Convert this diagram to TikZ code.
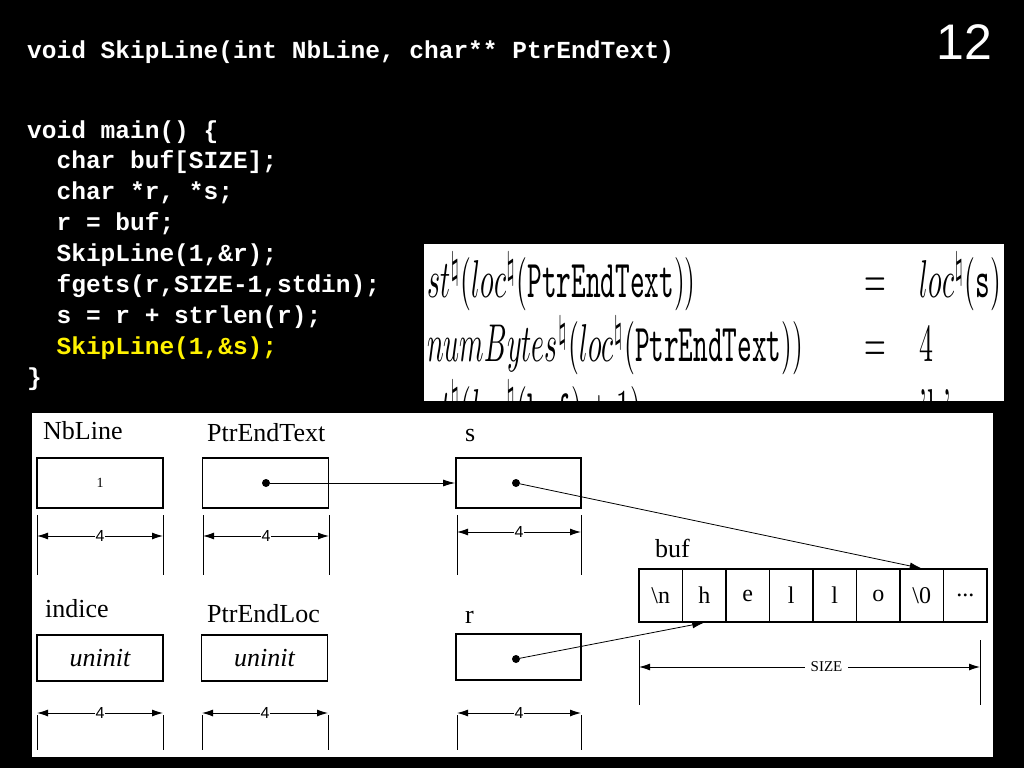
\documentclass[tikz,border=0pt]{standalone}
\usepackage{fontspec}
\newfontfamily\codef{Liberation Mono}
\newfontfamily\serf{Liberation Serif}
\newfontfamily\sanf{Liberation Sans}
\usetikzlibrary{arrows.meta,calc}
\begin{document}
\begin{tikzpicture}[x=1pt,y=-1pt,
  code/.style={anchor=west,inner sep=0,font=\codef\bfseries\fontsize{24.5}{24.5}\selectfont,text=white},
  cell/.style={draw,line width=1.8pt,minimum width=126pt,minimum height=50pt,inner sep=0},
  lbl/.style={anchor=west,inner sep=0,font=\serf\fontsize{26}{26}\selectfont},
  dimtxt/.style={fill=white,inner sep=1pt,font=\sanf\fontsize{16}{16}\selectfont},
  dim/.style={{Latex[length=11pt,width=7pt]}-{Latex[length=11pt,width=7pt]},line width=0.9pt},
  ptr/.style={-{Latex[length=12pt,width=7pt]},line width=0.8pt},
  acell/.style={draw,line width=1.2pt,minimum width=43.5pt,minimum height=53pt,inner sep=0,font=\serf\fontsize{24}{24}\selectfont},
  dotc/.style={circle,fill,inner sep=0,minimum size=8pt}]
\fill[black] (0,0) rectangle (1024,768);
\useasboundingbox (0,0) rectangle (1024,768);
\node[anchor=east,text=white,font=\sanf\fontsize{50}{50}\selectfont,inner sep=0] (num) at (992,42) {12};
\node[code] (c0) at (27,52) {void SkipLine(int NbLine, char** PtrEndText)};
\node[code] (c1) at (27,132) {void main() \{};
\node[code] (c2) at (27,162) {\ \ char buf[SIZE];};
\node[code] (c3) at (27,193) {\ \ char *r, *s;};
\node[code] (c4) at (27,224) {\ \ r = buf;};
\node[code] (c5) at (27,255) {\ \ SkipLine(1,\&r);};
\node[code] (c6) at (27,286) {\ \ fgets(r,SIZE-1,stdin);};
\node[code] (c7) at (27,317) {\ \ s = r + strlen(r);};
\node[code,text=yellow] (c8) at (27,348) {\ \ SkipLine(1,\&s);};
\node[code] (c9) at (27,379) {\}};
% formula box
\fill[white] (424,244) rectangle (1004,401);
\node[anchor=north west,inner sep=0] (form) at (427,252)
{\resizebox{574pt}{142pt}{$\begin{array}{@{}l@{\hspace{22pt}}c@{\hspace{12pt}}l@{}}
st^\natural(loc^\natural(\mathtt{PtrEndText})) & = & loc^\natural(\mathtt{s})\\
numBytes^\natural(loc^\natural(\mathtt{PtrEndText})) & = & 4\\
st^\natural(loc^\natural(\mathtt{buf})+1) & = & \textrm{'h'}\\
numBytes^\natural(loc^\natural(\mathtt{buf})+1) & = & 1
\end{array}$}};
% panel
\fill[white] (32,413) rectangle (993,757);
\node[lbl] (lNb) at (43,431) {NbLine};
\node[lbl] (lPE) at (207,433) {PtrEndText};
\node[lbl] (ls) at (465,435) {s};
\node[lbl] (lin) at (45,609) {indice};
\node[lbl] (lPL) at (207,614) {PtrEndLoc};
\node[lbl] (lr) at (465,617) {r};
\node[lbl] (lbuf) at (655,548) {buf};
\node[cell] (bNb) at (100,483) {\serf\fontsize{14}{14}\selectfont 1};
\node[cell] (bPE) at (265.5,483) {};
\node[cell,minimum width=125pt] (bs) at (518.5,483) {};
\node[cell,minimum height=46pt] (bin) at (100,658) {\serf\itshape\fontsize{26}{26}\selectfont uninit};
\node[cell,minimum height=46pt] (bPL) at (264.5,658) {\serf\itshape\fontsize{26}{26}\selectfont uninit};
\node[cell,minimum width=125pt,minimum height=46pt] (br) at (518.5,657) {};
\node[dotc] (dPE) at (266,483) {};
\node[dotc] (ds) at (516,483) {};
\node[dotc] (dr) at (516,659) {};
% buf array
\node[acell] (a0) at (660.75,595.5) {\textbackslash n};
\node[acell] (a1) at (704.25,595.5) {h};
\node[acell] (a2) at (747.75,595.5) {e};
\node[acell] (a3) at (791.25,595.5) {l};
\node[acell] (a4) at (834.75,595.5) {l};
\node[acell] (a5) at (878.25,595.5) {o};
\node[acell] (a6) at (921.75,595.5) {\textbackslash 0};
\node[acell] (a7) at (965.25,595.5) {...};
\draw[ptr] (dPE) -- (bs.west);
\draw[ptr] (ds) -- (a6.north);
\draw[ptr] (dr) -- (a1.south);
% dimensions
\foreach \xa/\xb/\ya/\yb/\yc [count=\k] in {37/163/515/575/536, 203/329/515/575/536, 457/581/515/575/532, 37/163/715/750/713, 202/328/715/750/713, 457/581/715/750/713, 639/980/640/705/667}{
  \coordinate (p\k) at (\xa,\yc); \coordinate (q\k) at (\xb,\yc);
  \draw[line width=0.8pt] (\xa,\ya) -- (\xa,\yb) (\xb,\ya) -- (\xb,\yb);
  \draw[dim] (p\k) -- (q\k);
}
\foreach \k in {1,...,6} \node[dimtxt] (t\k) at ($(p\k)!0.5!(q\k)$) {4};
\node[dimtxt,font=\serf\fontsize{15}{15}\selectfont,inner xsep=6pt] (t7) at ($(p7)!0.55!(q7)$) {SIZE};
\end{tikzpicture}
\end{document}
